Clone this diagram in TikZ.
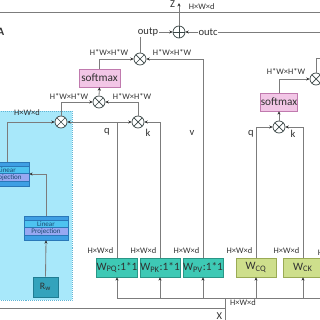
\documentclass[tikz,border=0pt]{standalone}
\usepackage{fontspec}
\setmainfont{Carlito}
\usetikzlibrary{arrows.meta,positioning,calc}
\definecolor{lnc}{HTML}{7C7C7C}
\definecolor{opc}{HTML}{3A4646}
\definecolor{txc}{HTML}{303030}
\definecolor{smf}{HTML}{F2C6E6}
\definecolor{smb}{HTML}{C07AAE}
\definecolor{wpf}{HTML}{3EC9B5}
\definecolor{wpb}{HTML}{2A9686}
\definecolor{wcf}{HTML}{CEDF8C}
\definecolor{wcb}{HTML}{9AAB55}
\definecolor{bgc}{HTML}{A8E8FA}
\definecolor{bgb}{HTML}{5FB4D4}
\definecolor{rwf}{HTML}{33A3BC}
\definecolor{rwb}{HTML}{1F7C92}
\definecolor{lpa}{HTML}{3E9FE4}
\definecolor{lpb}{HTML}{4EC3F0}
\definecolor{lpc}{HTML}{98A8F2}
\definecolor{lpd}{HTML}{2A78B8}

\begin{document}
\begin{tikzpicture}[x=0.025cm,y=-0.025cm,>={Stealth[length=2.4pt,width=2.2pt,color=black!80]},
 ln/.style={draw=lnc,line width=0.6pt},
 arr/.style={ln,->},
 mul/.style={circle,draw=opc,line width=0.5pt,fill=white,minimum size=0.3cm,inner sep=0pt,
  path picture={\draw[opc,line width=0.5pt] (path picture bounding box.north west)--(path picture bounding box.south east) (path picture bounding box.north east)--(path picture bounding box.south west);}},
 plus/.style={circle,draw=opc,line width=0.5pt,fill=white,minimum size=0.3cm,inner sep=0pt,
  path picture={\draw[opc,line width=0.5pt] (path picture bounding box.north)--(path picture bounding box.south) (path picture bounding box.west)--(path picture bounding box.east);}},
 smx/.style={draw=smb,fill=smf,minimum height=0.45cm,inner sep=0pt,text=txc,font=\fontsize{8}{9}\selectfont},
 wp/.style={draw=wpb,fill=wpf,minimum width=1cm,minimum height=0.475cm,inner sep=0pt,text=txc,font=\fontsize{8}{9}\selectfont},
 wc/.style={draw=wcb,fill=wcf,minimum width=1cm,minimum height=0.475cm,inner sep=0pt,text=txc,font=\fontsize{8}{9}\selectfont},
 lp/.style={draw=lpd,fill=lpa,line width=0.4pt,minimum width=1.1cm,minimum height=0.6cm,inner sep=0pt,align=center,text=lpd!60!black,
  font=\fontsize{5}{5.4}\selectfont,
  path picture={
   \fill[lpb] ($(path picture bounding box.north west)!0.17!(path picture bounding box.south west)$) rectangle ($(path picture bounding box.north east)!0.48!(path picture bounding box.south east)$);
   \fill[lpc] ($(path picture bounding box.north west)!0.48!(path picture bounding box.south west)$) rectangle ($(path picture bounding box.north east)!0.8!(path picture bounding box.south east)$);
   \draw[lpd,line width=0.3pt] ($(path picture bounding box.north west)!0.17!(path picture bounding box.south west)$) -- ($(path picture bounding box.north east)!0.17!(path picture bounding box.south east)$)
    ($(path picture bounding box.north west)!0.48!(path picture bounding box.south west)$) -- ($(path picture bounding box.north east)!0.48!(path picture bounding box.south east)$)
    ($(path picture bounding box.north west)!0.8!(path picture bounding box.south west)$) -- ($(path picture bounding box.north east)!0.8!(path picture bounding box.south east)$);}},
 rw/.style={draw=rwb,fill=rwf,minimum width=0.625cm,minimum height=0.5cm,inner sep=0pt,text=txc,font=\fontsize{7}{8}\selectfont},
 dim/.style={font=\fontsize{6}{7}\selectfont,inner sep=0.5pt,text=txc},
 tag/.style={font=\fontsize{7.5}{8}\selectfont,inner sep=0.5pt,text=txc}]
\clip (0,0) rectangle (320,320);
% frame and positional branch background
\draw[ln,line width=0.5pt] (0,12) -- (320,12);
\draw[ln,line width=0.5pt] (0,308) -- (225,308);
\draw[draw=bgb,densely dotted,fill=bgc] (-5,111) rectangle (72,300);
\node[font=\fontsize{8}{9}\selectfont\bfseries,text=txc,anchor=west,inner sep=0pt] (lbla) at (-3,32) {A};
% output
\node[plus] (add) at (179,32) {};
\node[tag] (outp) at (148,32) {outp};
\node[tag] (outc) at (208,32) {outc};
\coordinate (zout) at (179,3);
\coordinate (cin) at (325,32);
% position attention
\node[mul] (mo) at (140,59) {};
\node[smx,minimum width=1.025cm] (sm1) at (99.5,78) {softmax};
\node[mul] (ma) at (99,102) {};
\node[mul] (mr) at (61,122) {};
\node[mul] (mk) at (138,122) {};
\node[lp] (lp1) at (7,174) {Linear\\Projection};
\node[lp] (lp2) at (46,228) {Linear\\Projection};
\node[rw] (rwn) at (45.5,287) {R\textsubscript{w}};
\node[wp] (wpq) at (117,267.5) {W\textsubscript{PQ}:1*1};
\node[wp] (wpk) at (160,267.5) {W\textsubscript{PK}:1*1};
\node[wp] (wpv) at (203,267.5) {W\textsubscript{PV}:1*1};
% channel attention
\node[wc] (wcq) at (256,267.5) {W\textsubscript{CQ}};
\node[wc] (wck) at (303,267.5) {W\textsubscript{CK}};
\node[mul] (mc) at (279,127) {};
\node[smx,minimum width=0.925cm] (sm2) at (279,102) {softmax};
\node[mul] (mc2) at (316,79) {};
\coordinate (mcout) at (325,58);
% input
\coordinate (bus) at (225,298);
\coordinate (busr) at (325,298);
\coordinate (xin) at (225,322);
% connectors
\draw[arr] (add.north) -- (zout);
\node[tag,anchor=east] (lblz) at (176,4) {Z};
\node[dim,anchor=west] (lblzd) at (188,7) {H×W×d};
\draw[arr] (outp.east) -- (add.west);
\draw[arr] (outc.west) -- (add.east);
\draw[ln] (cin) -- (outc.east);
\draw[ln] (mo.north) -- (mo.north |- outp.south);
\draw[arr] (sm1.north) |- (mo.west);
\node[dim] (lbl1) at (109,53) {H*W×H*W};
\draw[arr] (wpv.north) |- (mo.east);
\node[dim] (lbl2) at (172,53) {H*W×H*W};
\node[tag] (lblv) at (192,133) {v};
\draw[arr] (ma.north) -- (sm1.south);
\draw[arr] (mr.north) |- (ma.west);
\draw[arr] (mk.north) |- (ma.east);
\node[dim] (lbl3) at (69,97) {H*W×H*W};
\node[dim] (lbl4) at (132,97) {H*W×H*W};
\draw[arr] (wpq.north) |- (mr.east);
\draw[arr] (wpq.north |- mk) -- (mk.west);
\node[tag] (lblq) at (107,132) {q};
\draw[arr] (wpk.north) |- (mk.east);
\node[tag] (lblk) at (148,133) {k};
\draw[arr] (lp1.north) |- (mr.west);
\node[dim] (lbl5) at (27,113) {H×W×d};
\draw[arr] (lp2.north) |- (lp1.east);
\draw[arr] (rwn.north) -- (lp2.south);
\draw[arr] (wcq.north) |- (mc.west);
\draw[arr] (wck.north) |- (mc.east);
\node[tag] (lblcq) at (251,134) {q};
\node[tag] (lblck) at (293,134) {k};
\draw[arr] (mc.north) -- (sm2.south);
\draw[arr] (sm2.north) |- (mc2.west);
\node[dim] (lbl6) at (286,72) {H*W×H*W};
\draw[ln] (mc2.north) |- (mcout);
\draw[ln] (wpq.south |- bus) -- (busr);
\foreach \b in {wpq,wpk,wpv,wcq,wck}{
 \draw[arr] (\b.south |- bus) -- (\b.south);
 \node[dim,anchor=south east] at ([xshift=-2pt,yshift=2pt]\b.north) {H×W×d};
}
\node[dim,anchor=south west] (lbl7) at (317,256.5) {H×W×d};
\draw[ln] (xin) -- (bus);
\node[tag,anchor=east] (lblx) at (223,316) {X};
\node[dim] (lbl8) at (243,303) {H×W×d};
\end{tikzpicture}
\end{document}
